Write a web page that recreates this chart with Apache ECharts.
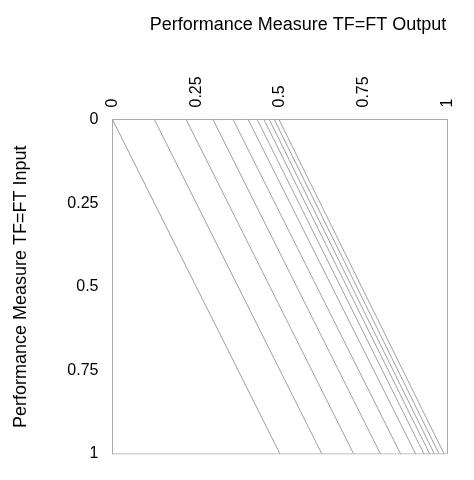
<!DOCTYPE html>
<html><head><meta charset="utf-8">
<script src="https://cdn.jsdelivr.net/npm/echarts@6/dist/echarts.min.js"></script>
<style>html,body{margin:0;padding:0;background:#fff}#chart{width:474px;height:480px}</style>
</head><body><div id="chart"></div>
<script>
var startOutput = [0, 0.125, 0.22, 0.3, 0.36, 0.405, 0.432, 0.452, 0.468, 0.483, 0.497];
var endOutput = [0.5, 0.625, 0.72, 0.8, 0.86, 0.905, 0.93, 0.947, 0.961, 0.975, 0.99];
var tickValues = [0, 0.25, 0.5, 0.75, 1];

var series = startOutput.map(function (s, i) {
  return {
    type: 'line', symbol: 'none', silent: true,
    lineStyle: { color: '#a0a0a0', width: 1 },
    data: [[s, 0], [endOutput[i], 1]]
  };
});
var fmt = function (v) { return tickValues.indexOf(v) >= 0 ? String(v) : ''; };
var chart = echarts.init(document.getElementById('chart'));
chart.setOption({
  animation: false,
  textStyle: { fontFamily: 'Liberation Sans' },
  title: {
    text: 'Performance Measure TF=FT Output', left: 293, top: 11, textAlign: 'center',
    textStyle: { fontSize: 18, fontWeight: 'normal', color: '#000' }
  },
  grid: { left: 112.5, right: 26.5, top: 119.5, bottom: 26 },
  xAxis: {
    type: 'value', position: 'top', min: 0, max: 1, interval: 0.25,
    axisLine: { show: true, lineStyle: { color: '#aaa' } },
    axisTick: { show: false }, splitLine: { show: false },
    axisLabel: { rotate: 90, fontSize: 16, color: '#000', margin: 12, formatter: fmt }
  },
  yAxis: {
    type: 'value', inverse: true, min: 0, max: 1, interval: 0.25,
    name: 'Performance Measure TF=FT Input', nameLocation: 'middle', nameGap: 82,
    nameTextStyle: { fontSize: 18, color: '#000' },
    axisLine: { show: true, lineStyle: { color: '#aaa' } },
    axisTick: { show: false }, splitLine: { show: false },
    axisLabel: { fontSize: 16, color: '#000', margin: 14, formatter: fmt }
  },
  series: series.concat([{
    type: 'line', symbol: 'none', silent: true,
    lineStyle: { color: '#aaa', width: 1 },
    data: [[1, 0], [1, 1]]
  }, {
    type: 'line', symbol: 'none', silent: true,
    lineStyle: { color: '#aaa', width: 1 },
    data: [[0, 1], [1, 1]]
  }])
});
</script></body></html>
